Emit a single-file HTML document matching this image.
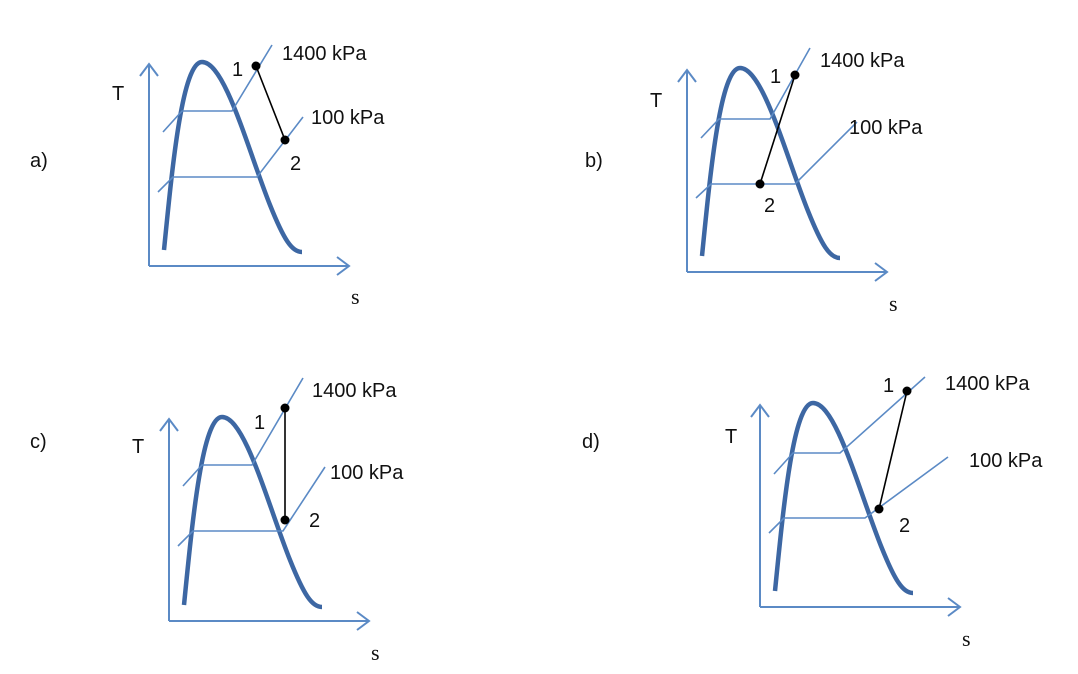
<!DOCTYPE html>
<html><head><style>body{margin:0;background:#fff}svg{display:block}text{font-family:"Liberation Sans",sans-serif;fill:#111}text.sr{font-family:"Liberation Serif",serif}</style></head><body>
<svg width="1078" height="674" viewBox="0 0 1078 674">
<defs>
<g id="ax">
<path d="M149,266 V64 M140,76 L149,64 L158,76 M149,266 H349 M337,257 L349,266 L337,275" fill="none" stroke="#5b8ac5" stroke-width="2"/>
<path d="M164,250 C172,170 182,62 202,62 C225,62 248,150 270,205 C284,240 292,252 302,252" fill="none" stroke="#3d67a3" stroke-width="4.5"/>
</g>
</defs>
<g stroke="#5b8ac5" stroke-width="1.6" fill="none">
<use href="#ax"/>
<use href="#ax" transform="translate(538,6)"/>
<use href="#ax" transform="translate(20,355)"/>
<use href="#ax" transform="translate(611,341)"/>
<path d="M163,132 L182,111 H232 L272,45 M158,192 L173,177 H257 L303,117"/>
<path d="M701,138 L719,119 H770 L810,48 M696,198 L711,184 H795 L857,122"/>
<path d="M183,486 L202,465 H252 L303,378 M178,546 L193,531 H283 L325,467"/>
<path d="M774,474 L793,453 H840 L925,377 M769,533 L784,518 H865 L948,457"/>
</g>
<g stroke="#000" stroke-width="1.6">
<line x1="256" y1="66" x2="285" y2="140"/>
<line x1="795" y1="75" x2="760" y2="184"/>
<line x1="285" y1="408" x2="285" y2="520"/>
<line x1="907" y1="391" x2="879" y2="509"/>
</g>
<g fill="#000">
<circle cx="256" cy="66" r="4.5"/><circle cx="285" cy="140" r="4.5"/>
<circle cx="795" cy="75" r="4.5"/><circle cx="760" cy="184" r="4.5"/>
<circle cx="285" cy="408" r="4.5"/><circle cx="285" cy="520" r="4.5"/>
<circle cx="907" cy="391" r="4.5"/><circle cx="879" cy="509" r="4.5"/>
</g>
<g font-size="20">
<text x="30" y="167">a)</text><text x="585" y="167">b)</text>
<text x="30" y="448">c)</text><text x="582" y="448">d)</text>
<text x="112" y="100">T</text><text x="650" y="107">T</text>
<text x="132" y="453">T</text><text x="725" y="443">T</text>
<text x="282" y="60">1400 kPa</text><text x="311" y="124">100 kPa</text>
<text x="232" y="76">1</text><text x="290" y="170">2</text>
<text x="820" y="67">1400 kPa</text><text x="849" y="134">100 kPa</text>
<text x="770" y="83">1</text><text x="764" y="212">2</text>
<text x="312" y="397">1400 kPa</text><text x="330" y="479">100 kPa</text>
<text x="254" y="429">1</text><text x="309" y="527">2</text>
<text x="945" y="390">1400 kPa</text><text x="969" y="467">100 kPa</text>
<text x="883" y="392">1</text><text x="899" y="532">2</text>
</g>
<g font-size="22">
<text class="sr" x="351" y="304">s</text><text class="sr" x="889" y="311">s</text>
<text class="sr" x="371" y="660">s</text><text class="sr" x="962" y="646">s</text>
</g>
</svg>
</body></html>
